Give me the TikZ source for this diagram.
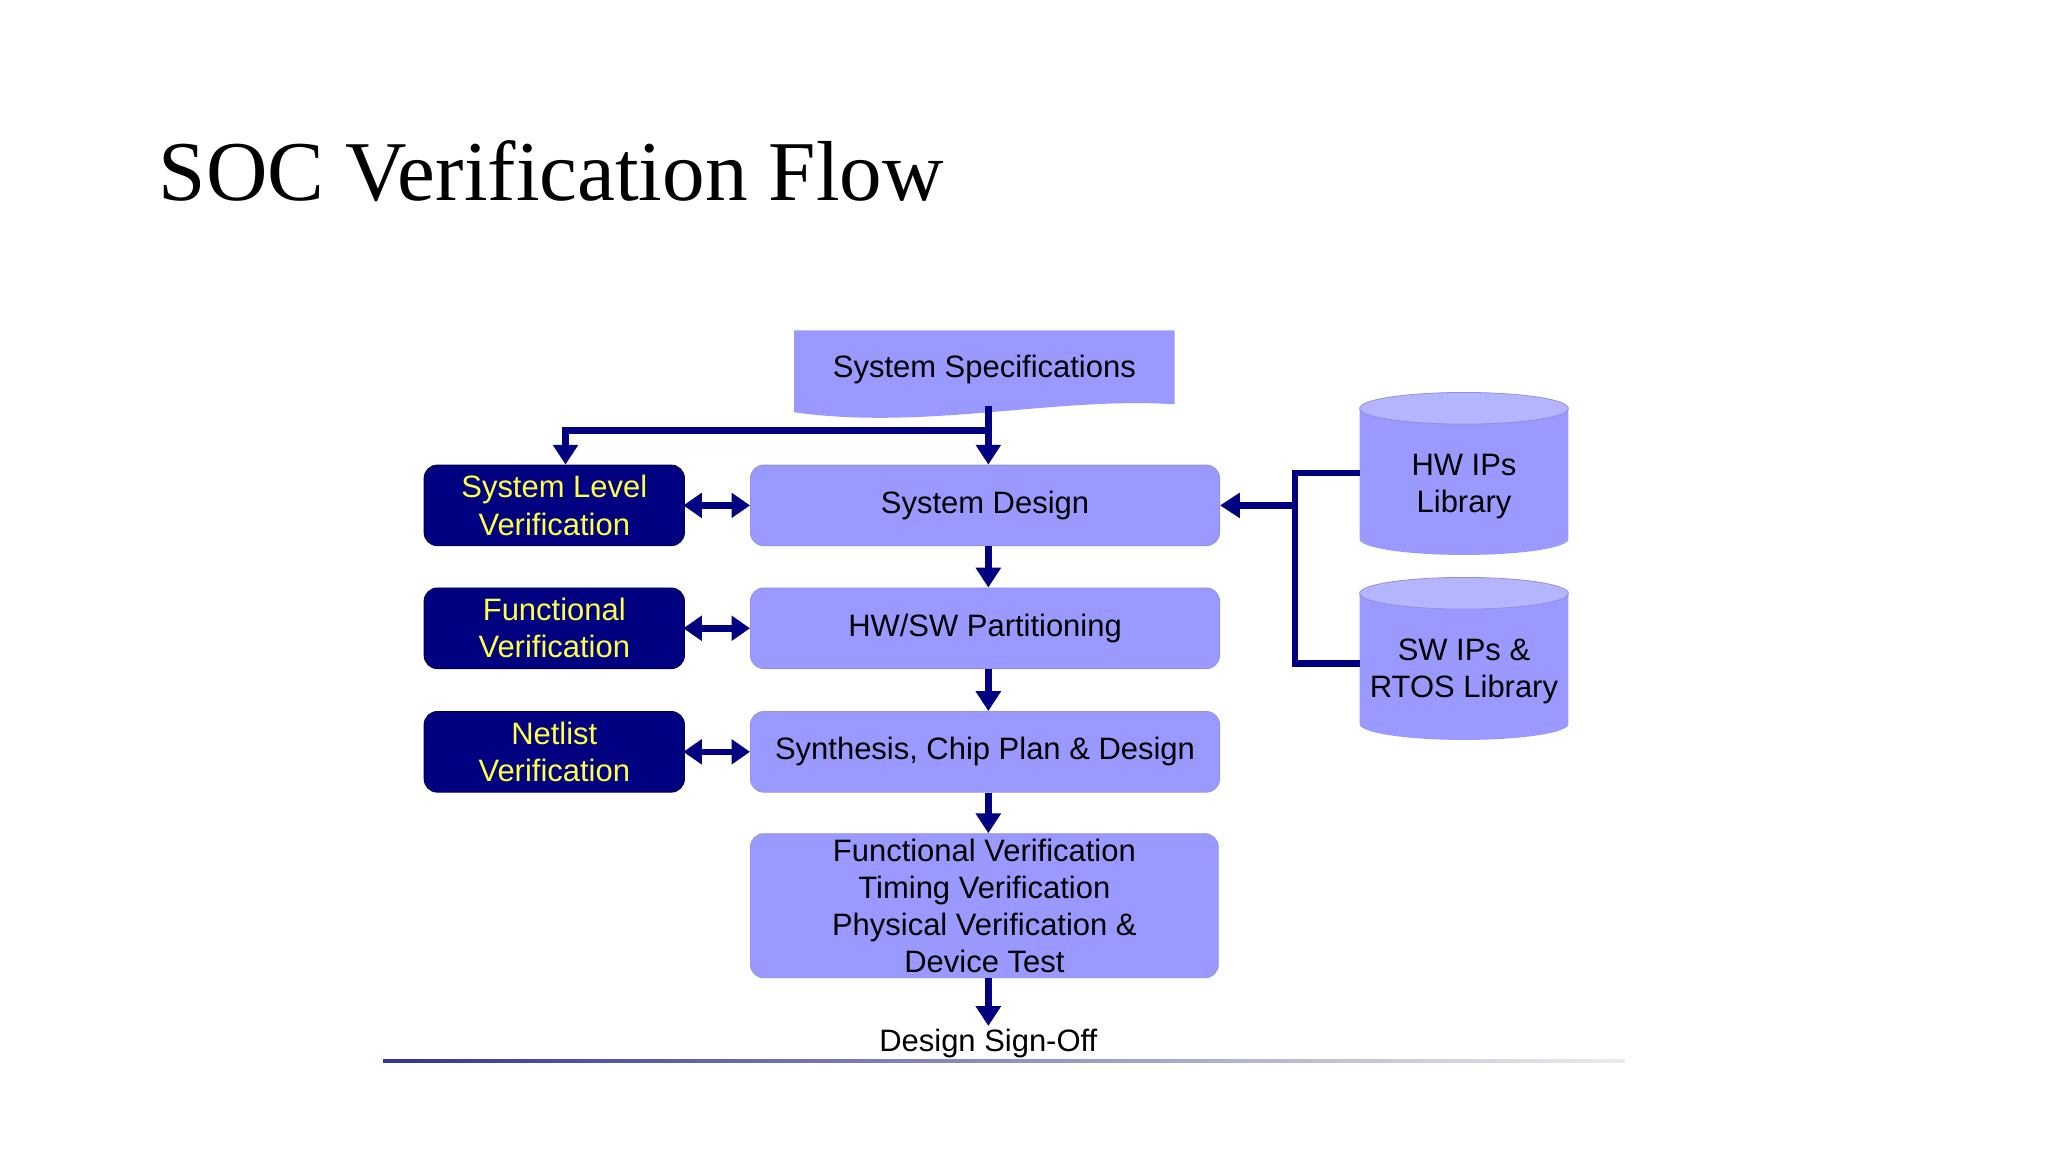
\documentclass[tikz,border=0pt]{standalone}
\usepackage{fontspec}
\setmainfont{Liberation Serif}
\newfontfamily\boxfont{Liberation Sans}
\usetikzlibrary{arrows.meta}
\definecolor{lbox}{RGB}{153,153,255}
\definecolor{ltop}{RGB}{180,180,255}
\definecolor{navy}{RGB}{0,0,128}
\definecolor{ylw}{RGB}{255,255,70}
\tikzset{
  bf/.style={font=\boxfont\fontsize{20}{24}\selectfont},
  light/.style={fill=lbox, rounded corners=0.3cm, draw=lbox!80!gray, line width=0.6pt, align=center, bf, inner sep=0pt},
  dark/.style={fill=navy, rounded corners=0.3cm, draw=navy!60!black, line width=0.6pt, align=center, text=ylw, bf, inner sep=0pt, minimum width=5.91cm, minimum height=1.83cm},
  main/.style={light, minimum width=10.65cm, minimum height=1.83cm},
  conn/.style={draw=navy, line width=4.2pt},
  arr/.style={conn, -{Triangle[length=0.45cm,width=0.55cm]}},
  darr/.style={conn, {Triangle[length=0.42cm,width=0.55cm]}-{Triangle[length=0.42cm,width=0.55cm]}, shorten <=-1pt},
}
\begin{document}
\begin{tikzpicture}[x=0.03cm,y=-0.03cm]
\useasboundingbox[fill=white] (0,0) rectangle (1550,872);
% title
\node[anchor=base west, inner sep=0pt, font=\fontsize{55}{60}\selectfont] (title) at (120,152) {SOC Verification Flow};
% spec shape
\fill[lbox] (601,250) -- (889,250) -- (889,306) .. controls (800,300) and (700,326) .. (601,312) -- cycle;
\node[bf, minimum width=8.64cm, minimum height=1.8cm] (spec) at (745,280) {System Specifications};
% main boxes
\node[main] (sd) at (745.5,382.5) {System Design};
\node[main] (hw) at (745.5,475.5) {HW/SW Partitioning};
\node[main] (syn) at (745.5,569) {Synthesis, Chip Plan \& Design};
\node[light, minimum width=10.62cm, minimum height=3.27cm] (fin) at (745,685.5) {Functional Verification\\Timing Verification\\Physical Verification \&\\Device Test};
\node[bf, inner sep=2pt] (sign) at (748,790) {Design Sign{-}Off};
% left boxes
\node[dark] (slv) at (419.5,382.5) {System Level\\Verification};
\node[dark] (fv) at (419.5,475.5) {Functional\\Verification};
\node[dark] (nv) at (419.5,569) {Netlist\\Verification};
% cylinders
\foreach \yt/\yb in {297/420, 437/560}{
  \fill[lbox] (1029,\yt+12) -- (1029,\yb-12) arc[start angle=180,end angle=0,x radius=79,y radius=12] -- (1187,\yt+12) -- cycle;
  \fill[ltop] (1108,\yt+12) ellipse[x radius=79,y radius=12];
  \draw[lbox!70!gray, line width=0.5pt] (1108,\yt+12) ellipse[x radius=79,y radius=12];
}
\node[bf, align=center, minimum width=4.74cm, minimum height=3cm] (hwl) at (1108,368) {HW IPs\\Library};
\node[bf, align=center, minimum width=4.74cm, minimum height=3cm] (swl) at (1108,508) {SW IPs \&\\RTOS Library};
% connectors
\coordinate (j1) at (748,326);
\coordinate (j2) at (428,326);
\draw[conn] (j1 |- spec.south) ++(0,-3) -- (j1);
\draw[arr] (j1) -- (j1 |- sd.north);
\draw[arr] (j1) -- (j2) -- (j2 |- slv.north);
\draw[arr] (j1 |- sd.south) -- (j1 |- hw.north);
\draw[arr] (j1 |- hw.south) -- (j1 |- syn.north);
\draw[arr] (j1 |- syn.south) -- (j1 |- fin.north);
\draw[arr] (j1 |- fin.south) -- (j1 |- sign.north);
\draw[darr] (slv.east) -- (sd.west);
\draw[darr] (fv.east) -- (hw.west);
\draw[darr] (nv.east) -- (syn.west);
\coordinate (r1) at (980,358);
\coordinate (r2) at (980,502);
\draw[conn] (1029,358) -- (r1) -- (r2) -- (1029,502);
\draw[arr] (r1 |- sd.east) -- (sd.east);
% bottom line
\shade[left color=navy!80, right color=gray!15] (290,802) rectangle (1230,804);
\end{tikzpicture}
\end{document}
